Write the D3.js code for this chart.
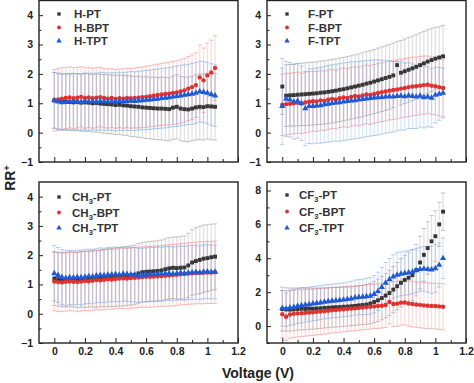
<!DOCTYPE html>
<html><head><meta charset="utf-8">
<script src="https://cdn.jsdelivr.net/npm/d3@7"></script>
<style>body{margin:0;background:#fff} svg{display:block}</style>
</head><body>
<svg id="c" width="474" height="383"></svg>
<script>
const voltage = [0,0.025,0.05,0.075,0.1,0.125,0.15,0.175,0.2,0.225,0.25,0.275,0.3,0.325,0.35,0.375,0.4,0.425,0.45,0.475,0.5,0.525,0.55,0.575,0.6,0.625,0.65,0.675,0.7,0.725,0.75,0.775,0.8,0.825,0.85,0.875,0.9,0.925,0.95,0.975,1,1.025,1.05];

const xTicks = [0,0.2,0.4,0.6,0.8,1,1.2];
const xTickLabels = ["0","0.2","0.4","0.6","0.8","1","1.2"];
const xMinorTicks = [0.1,0.3,0.5,0.7,0.9,1.1];
const yTicksSmall = [-1,0,1,2,3,4];
const yMinorSmall = [-0.5,0.5,1.5,2.5,3.5];
const yTicksLarge = [0,2,4,6,8];
const yMinorLarge = [-1,1,3,5,7];

const legendH = ["H-PT","H-BPT","H-TPT"];
const legendF = ["F-PT","F-BPT","F-TPT"];
const legendCH3 = [["CH","3","-PT"],["CH","3","-BPT"],["CH","3","-TPT"]];
const legendCF3 = [["CF","3","-PT"],["CF","3","-BPT"],["CF","3","-TPT"]];

// H panel
const H_PT = [1.10,1.08,1.06,1.05,1.04,1.03,1.04,1.02,1.03,1.02,1.00,1.01,0.99,0.98,0.97,0.96,0.94,0.95,0.93,0.92,0.90,0.89,0.88,0.86,0.85,0.84,0.83,0.82,0.82,0.81,0.80,0.85,0.88,0.82,0.80,0.79,0.82,0.86,0.88,0.87,0.90,0.89,0.88];
const H_PT_err = [0.95,0.95,0.96,0.96,0.96,0.97,0.97,0.97,0.98,0.98,0.98,0.99,0.99,1.00,1.00,1.00,1.01,1.01,1.02,1.02,1.03,1.03,1.04,1.04,1.05,1.05,1.06,1.06,1.07,1.07,1.08,1.08,1.09,1.09,1.10,1.10,1.10,1.11,1.11,1.12,1.12,1.13,1.13];
const H_BPT = [1.10,1.13,1.16,1.18,1.20,1.17,1.19,1.22,1.18,1.20,1.17,1.19,1.21,1.18,1.16,1.18,1.15,1.17,1.16,1.18,1.17,1.18,1.19,1.21,1.22,1.24,1.26,1.28,1.30,1.32,1.33,1.35,1.37,1.40,1.44,1.50,1.55,1.62,1.88,1.78,1.95,2.05,2.20];
const H_BPT_err = [1.05,1.05,1.05,1.04,1.04,1.04,1.03,1.03,1.03,1.02,1.02,1.02,1.01,1.01,1.01,1.00,1.00,1.00,1.01,1.01,1.02,1.02,1.03,1.03,1.04,1.04,1.05,1.05,1.06,1.06,1.07,1.07,1.08,1.08,1.09,1.09,1.10,1.10,1.10,1.10,1.10,1.10,1.10];
const H_TPT = [1.10,1.05,1.03,1.04,1.05,1.06,1.05,1.04,1.06,1.05,1.06,1.05,1.07,1.06,1.05,1.06,1.05,1.07,1.06,1.07,1.08,1.07,1.09,1.10,1.11,1.12,1.14,1.15,1.17,1.18,1.20,1.22,1.24,1.26,1.28,1.30,1.32,1.35,1.40,1.38,1.35,1.30,1.26];
const H_TPT_err = [0.95,0.95,0.95,0.95,0.96,0.96,0.96,0.96,0.97,0.97,0.97,0.97,0.98,0.98,0.98,0.98,0.99,0.99,0.99,0.99,1.00,1.00,1.00,1.00,1.01,1.01,1.01,1.01,1.02,1.02,1.02,1.02,1.03,1.03,1.03,1.03,1.04,1.04,1.04,1.04,1.05,1.05,1.05];

// F panel
const F_PT = [1.57,1.26,1.27,1.28,1.29,1.30,1.31,1.32,1.33,1.34,1.36,1.37,1.39,1.41,1.43,1.46,1.48,1.51,1.54,1.57,1.60,1.63,1.67,1.70,1.74,1.78,1.82,1.86,1.90,1.95,2.30,2.04,2.09,2.14,2.19,2.24,2.30,2.36,2.42,2.47,2.52,2.56,2.60];
const F_PT_err = [0.95,1.05,1.05,1.06,1.06,1.06,1.07,1.07,1.07,1.07,1.08,1.08,1.08,1.08,1.08,1.08,1.08,1.08,1.08,1.08,1.08,1.09,1.09,1.09,1.09,1.10,1.10,1.10,1.10,1.10,0.80,1.10,1.10,1.10,1.10,1.10,1.10,1.09,1.08,1.07,1.06,1.05,1.05];
const F_BPT = [0.95,0.97,0.98,1.00,1.02,0.99,1.03,1.05,1.07,1.06,1.10,1.08,1.12,1.15,1.13,1.17,1.20,1.18,1.22,1.25,1.23,1.27,1.30,1.28,1.32,1.35,1.38,1.40,1.43,1.45,1.47,1.50,1.52,1.55,1.57,1.58,1.60,1.62,1.63,1.60,1.58,1.55,1.52];
const F_BPT_err = [1.05,1.05,1.04,1.04,1.04,1.03,1.03,1.03,1.02,1.02,1.02,1.01,1.01,1.01,1.00,1.00,1.00,1.00,1.00,1.00,1.00,1.00,1.00,1.00,1.00,1.00,1.00,1.00,1.00,1.00,1.00,1.00,1.00,1.00,1.00,0.99,0.99,0.99,0.98,0.98,0.98,0.98,0.98];
const F_TPT = [0.90,1.15,1.12,1.05,1.08,1.00,0.82,0.90,0.90,0.92,0.93,0.96,0.98,1.00,1.02,1.03,1.05,1.07,1.09,1.10,1.12,1.14,1.16,1.17,1.19,1.20,1.21,1.22,1.23,1.22,1.24,1.25,1.23,1.26,1.24,1.22,1.25,1.20,1.22,1.18,1.28,1.32,1.35];
const F_TPT_err = [1.30,1.28,1.27,1.27,1.27,1.27,1.27,1.27,1.28,1.28,1.29,1.30,1.30,1.31,1.31,1.32,1.32,1.32,1.32,1.31,1.31,1.30,1.30,1.29,1.29,1.28,1.26,1.24,1.22,1.20,1.18,1.16,1.14,1.12,1.10,1.08,1.06,1.04,1.02,1.00,0.95,0.90,0.85];

// CH3 panel
const CH3_PT = [1.20,1.18,1.17,1.16,1.18,1.17,1.16,1.18,1.17,1.19,1.20,1.19,1.21,1.22,1.23,1.24,1.25,1.26,1.27,1.29,1.31,1.33,1.38,1.42,1.43,1.44,1.45,1.46,1.48,1.52,1.55,1.57,1.56,1.57,1.58,1.65,1.75,1.80,1.84,1.88,1.90,1.93,1.95];
const CH3_PT_err = [0.92,0.92,0.93,0.93,0.94,0.94,0.95,0.95,0.96,0.96,0.97,0.97,0.98,0.98,0.99,0.99,1.00,1.00,1.00,1.01,1.01,1.01,1.02,1.02,1.02,1.03,1.03,1.03,1.04,1.04,1.05,1.05,1.06,1.07,1.08,1.10,1.12,1.14,1.15,1.15,1.14,1.13,1.12];
const CH3_BPT = [1.10,1.08,1.07,1.09,1.10,1.09,1.08,1.10,1.12,1.11,1.13,1.15,1.14,1.16,1.18,1.17,1.19,1.20,1.21,1.20,1.22,1.23,1.24,1.25,1.26,1.26,1.27,1.28,1.29,1.30,1.31,1.32,1.33,1.35,1.36,1.37,1.38,1.39,1.40,1.40,1.41,1.41,1.42];
const CH3_BPT_err = [1.00,1.00,1.00,1.00,1.00,1.00,1.01,1.01,1.01,1.01,1.01,1.01,1.02,1.02,1.02,1.02,1.02,1.02,1.03,1.03,1.03,1.03,1.03,1.03,1.04,1.04,1.04,1.04,1.04,1.04,1.05,1.05,1.05,1.05,1.05,1.05,1.05,1.05,1.06,1.06,1.06,1.06,1.06];
const CH3_TPT = [1.38,1.32,1.25,1.22,1.24,1.23,1.25,1.24,1.26,1.28,1.27,1.30,1.32,1.31,1.33,1.34,1.35,1.33,1.36,1.35,1.34,1.33,1.30,1.32,1.33,1.35,1.34,1.36,1.35,1.37,1.38,1.36,1.38,1.40,1.38,1.40,1.41,1.42,1.40,1.43,1.44,1.42,1.43];
const CH3_TPT_err = [0.95,0.94,0.94,0.94,0.93,0.93,0.93,0.93,0.93,0.93,0.93,0.93,0.93,0.93,0.93,0.93,0.93,0.93,0.93,0.93,0.93,0.93,0.92,0.92,0.92,0.92,0.92,0.92,0.92,0.92,0.92,0.92,0.92,0.92,0.92,0.92,0.92,0.92,0.92,0.92,0.92,0.92,0.92];

// CF3 panel
const CF3_PT = [1.00,0.98,0.97,0.98,1.00,1.02,1.01,1.03,1.02,1.04,1.05,1.07,1.08,1.10,1.11,1.12,1.14,1.15,1.17,1.19,1.22,1.24,1.27,1.33,1.42,1.52,1.65,1.80,1.95,2.15,2.35,2.55,2.72,2.85,3.00,3.30,3.75,4.20,4.60,5.00,5.30,6.00,6.75];
const CF3_PT_err = [1.30,1.28,1.27,1.26,1.25,1.24,1.23,1.22,1.21,1.20,1.19,1.18,1.18,1.17,1.17,1.16,1.16,1.15,1.15,1.15,1.15,1.16,1.18,1.20,1.22,1.25,1.28,1.31,1.34,1.37,1.40,1.43,1.45,1.48,1.50,1.52,1.55,1.55,1.55,1.52,1.50,1.30,1.10];
const CF3_BPT = [0.70,0.55,0.68,0.72,0.75,0.76,0.78,0.80,0.81,0.84,0.86,0.88,0.90,0.93,0.95,0.97,0.99,1.01,1.03,1.05,1.07,1.09,1.12,1.14,1.16,1.18,1.20,1.24,1.42,1.30,1.32,1.38,1.40,1.33,1.30,1.27,1.25,1.22,1.20,1.19,1.18,1.16,1.14];
const CF3_BPT_err = [1.40,1.40,1.40,1.39,1.39,1.38,1.38,1.37,1.37,1.36,1.36,1.35,1.35,1.34,1.34,1.33,1.33,1.33,1.32,1.32,1.32,1.32,1.32,1.32,1.32,1.32,1.32,1.32,1.30,1.32,1.33,1.33,1.33,1.34,1.34,1.34,1.35,1.35,1.35,1.35,1.35,1.36,1.36];
const CF3_TPT = [1.05,1.02,1.08,1.12,1.18,1.22,1.25,1.28,1.32,1.35,1.38,1.42,1.45,1.48,1.50,1.52,1.55,1.58,1.62,1.68,1.70,1.72,1.75,1.78,1.88,2.05,2.30,2.55,2.75,2.92,3.02,3.08,3.12,3.15,3.20,3.28,3.35,3.38,3.35,3.32,3.40,3.60,4.00];
const CF3_TPT_err = [1.05,1.05,1.04,1.04,1.03,1.03,1.02,1.02,1.01,1.01,1.00,1.00,1.00,1.00,1.00,1.00,1.00,1.01,1.02,1.03,1.04,1.05,1.07,1.08,1.10,1.13,1.16,1.20,1.24,1.28,1.30,1.30,1.30,1.30,1.30,1.30,1.30,1.32,1.35,1.40,1.40,1.30,1.20];

const markerColors = ["#363636","#e0302f","#1f5ad6"];
const errColors = ["#8c8c8c","#f07a7a","#6d9fe6"];
const symbols = [d3.symbolSquare, d3.symbolCircle, d3.symbolTriangle];
const symSizes = [15, 15, 17];
const FONT = "'Liberation Sans', Arial, sans-serif";

const panels = [
  {x0:39, x1:238, y0:0.5, y1:162, yDom:[-1,4.5], yT:yTicksSmall, yM:yMinorSmall, xLabels:false,
   series:[[H_PT,H_PT_err],[H_BPT,H_BPT_err],[H_TPT,H_TPT_err]], legend:legendH, legX:59, legTX:74, legY:[14,27.5,41]},
  {x0:267, x1:466, y0:0.5, y1:162, yDom:[-1,4.5], yT:yTicksSmall, yM:yMinorSmall, xLabels:false,
   series:[[F_PT,F_PT_err],[F_BPT,F_BPT_err],[F_TPT,F_TPT_err]], legend:legendF, legX:287, legTX:308, legY:[14,27.5,41]},
  {x0:39, x1:238, y0:182, y1:343, yDom:[-1,4.5], yT:yTicksSmall, yM:yMinorSmall, xLabels:true,
   series:[[CH3_PT,CH3_PT_err],[CH3_BPT,CH3_BPT_err],[CH3_TPT,CH3_TPT_err]], legend:legendCH3, legX:59, legTX:72, legY:[197,212.5,228]},
  {x0:267, x1:466, y0:182, y1:343, yDom:[-1,8.5], yT:yTicksLarge, yM:yMinorLarge, xLabels:true,
   series:[[CF3_PT,CF3_PT_err],[CF3_BPT,CF3_BPT_err],[CF3_TPT,CF3_TPT_err]], legend:legendCF3, legX:287, legTX:299, legY:[195,211.5,228]}
];

const svg = d3.select("#c");

panels.forEach(p => {
  const x = d3.scaleLinear().domain([-0.1,1.2]).range([p.x0,p.x1]);
  const y = d3.scaleLinear().domain(p.yDom).range([p.y1,p.y0]);
  const g = svg.append("g");

  // error bars
  p.series.forEach(([m,e],k) => {
    const eg = g.append("g").attr("stroke", errColors[k]);
    m.forEach((v,i) => {
      const xx = x(voltage[i]);
      eg.append("line").attr("x1",xx).attr("x2",xx).attr("y1",y(v-e[i])).attr("y2",y(v+e[i]))
        .attr("stroke-width",1.3).attr("stroke-opacity",0.26);
      [v-e[i], v+e[i]].forEach(c => {
        eg.append("line").attr("x1",xx-2.2).attr("x2",xx+2.2).attr("y1",y(c)).attr("y2",y(c))
          .attr("stroke-width",0.9).attr("stroke-opacity",0.55);
      });
    });
  });

  // markers
  p.series.forEach(([m],k) => {
    const sym = d3.symbol().type(symbols[k]).size(symSizes[k]);
    g.append("g").selectAll("path").data(m).join("path")
      .attr("d", sym)
      .attr("transform",(v,i)=>`translate(${x(voltage[i])},${y(v)})`)
      .attr("fill", markerColors[k]);
  });

  // axes
  g.append("g").attr("transform",`translate(0,${p.y1})`)
    .call(d3.axisBottom(x).tickValues(xTicks).tickSize(-5).tickPadding(5)
      .tickFormat((d,i)=> p.xLabels ? xTickLabels[i] : ""));
  g.append("g").attr("transform",`translate(0,${p.y1})`)
    .call(d3.axisBottom(x).tickValues(xMinorTicks).tickSize(-3).tickFormat(""));
  g.append("g").attr("transform",`translate(${p.x0},0)`)
    .call(d3.axisLeft(y).tickValues(p.yT).tickSize(-4).tickPadding(6).tickFormat(d3.format("d")));
  g.append("g").attr("transform",`translate(${p.x0},0)`)
    .call(d3.axisLeft(y).tickValues(p.yM).tickSize(-2.5).tickFormat(""));
  g.selectAll(".domain").remove();
  g.selectAll(".tick line").attr("stroke","#222").attr("stroke-width",1);
  g.selectAll(".tick text").attr("font-family",FONT).attr("font-weight","bold")
    .attr("font-size","10.5px").attr("fill","#222");

  // frame
  g.append("rect").attr("x",p.x0).attr("y",p.y0).attr("width",p.x1-p.x0).attr("height",p.y1-p.y0)
    .attr("fill","none").attr("stroke","#222").attr("stroke-width",1.4);

  // legend
  p.legend.forEach((lab,k) => {
    g.append("path").attr("d", d3.symbol().type(symbols[k]).size(symSizes[k]*0.75)())
      .attr("transform",`translate(${p.legX},${p.legY[k]})`).attr("fill",markerColors[k]);
    const t = g.append("text").attr("x",p.legTX).attr("y",p.legY[k]).attr("dy","0.36em")
      .attr("font-family",FONT).attr("font-weight","bold").attr("font-size","11.5px").attr("fill","#333");
    if (Array.isArray(lab)) {
      t.append("tspan").text(lab[0]);
      t.append("tspan").attr("font-size","7.5px").attr("dy","3").text(lab[1]);
      t.append("tspan").attr("dy","-3").text(lab[2]);
    } else t.text(lab);
  });
});

// axis titles
svg.append("text").attr("x",258).attr("y",378).attr("text-anchor","middle")
  .attr("font-family",FONT).attr("font-weight","bold").attr("font-size","14px").attr("fill","#222")
  .text("Voltage (V)");
const yt = svg.append("text").attr("transform","translate(14.5,178) rotate(-90)").attr("text-anchor","middle")
  .attr("font-family",FONT).attr("font-weight","bold").attr("font-size","14px").attr("fill","#222");
yt.append("tspan").text("RR");
yt.append("tspan").attr("font-size","9px").attr("dy","-5").text("+");
</script>
</body></html>
